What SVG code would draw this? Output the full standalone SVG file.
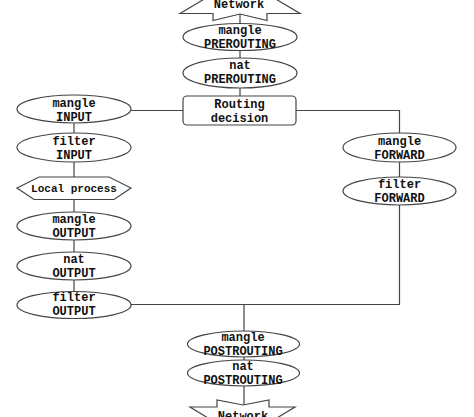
<svg xmlns="http://www.w3.org/2000/svg" width="474" height="417" viewBox="0 0 474 417">
<style>
.s{fill:#fff;stroke:#444;stroke-width:1.2}
.c{fill:none;stroke:#444;stroke-width:1.2}
text{font-family:"Liberation Mono","Courier New",monospace;font-weight:bold;font-size:12px;fill:#111;text-anchor:middle}
</style>
<rect width="474" height="417" fill="#fff"/>
<g id="connectors">
<line class="c" x1="240" y1="14" x2="240" y2="24"/>
<line class="c" x1="240" y1="50" x2="240" y2="58"/>
<line class="c" x1="240" y1="88" x2="240" y2="96"/>
<line class="c" x1="183" y1="110.5" x2="131" y2="110.5"/>
<polyline class="c" points="296,110.5 399.5,110.5 399.5,133"/>
<line class="c" x1="399.5" y1="162" x2="399.5" y2="177"/>
<line class="c" x1="74" y1="123" x2="74" y2="133"/>
<line class="c" x1="74" y1="162" x2="74" y2="177"/>
<line class="c" x1="74" y1="199" x2="74" y2="212"/>
<line class="c" x1="74" y1="240" x2="74" y2="252"/>
<line class="c" x1="74" y1="280" x2="74" y2="292"/>
<polyline class="c" points="131,304.5 399.5,304.5 399.5,205"/>
<line class="c" x1="244" y1="304.5" x2="244" y2="331"/>
<line class="c" x1="244" y1="357" x2="244" y2="360"/>
<line class="c" x1="244" y1="386" x2="244" y2="405"/>
</g>
<g id="net_in">
<polygon class="s" points="180,13.5 206,-2 274,-2 300,13.5 267,13.5 267,20.5 240,14 213,20.5 213,13.5"/>
<text x="239" y="8">Network</text>
</g>
<g id="mangle_prerouting">
<ellipse class="s" cx="240" cy="37" rx="57" ry="13.5"/>
<text x="240" y="34">mangle</text>
<text x="240" y="48">PREROUTING</text>
</g>
<g id="nat_prerouting">
<ellipse class="s" cx="240" cy="73" rx="57" ry="15"/>
<text x="240" y="69">nat</text>
<text x="240" y="83">PREROUTING</text>
</g>
<g id="routing_decision">
<rect class="s" x="183" y="96" width="113" height="29" rx="4"/>
<text x="239.5" y="108">Routing</text>
<text x="239.5" y="122">decision</text>
</g>
<g id="mangle_input">
<ellipse class="s" cx="74" cy="109" rx="57" ry="14"/>
<text x="74" y="107">mangle</text>
<text x="74" y="121">INPUT</text>
</g>
<g id="filter_input">
<ellipse class="s" cx="74" cy="147.5" rx="57" ry="14.5"/>
<text x="74" y="145">filter</text>
<text x="74" y="159">INPUT</text>
</g>
<g id="local_process">
<polygon class="s" points="17,188 39,177 109,177 131,188 114,199.5 34,199.5"/>
<text x="74" y="192" style="font-size:11px">Local process</text>
</g>
<g id="mangle_output">
<ellipse class="s" cx="74" cy="226" rx="57" ry="14"/>
<text x="74" y="223">mangle</text>
<text x="74" y="237">OUTPUT</text>
</g>
<g id="nat_output">
<ellipse class="s" cx="74" cy="266" rx="57" ry="14"/>
<text x="74" y="263">nat</text>
<text x="74" y="277">OUTPUT</text>
</g>
<g id="filter_output">
<ellipse class="s" cx="74" cy="305" rx="57" ry="13.5"/>
<text x="74" y="301">filter</text>
<text x="74" y="315">OUTPUT</text>
</g>
<g id="mangle_forward">
<ellipse class="s" cx="399.5" cy="147.5" rx="56.5" ry="14.5"/>
<text x="399.5" y="144.5">mangle</text>
<text x="399.5" y="158.5">FORWARD</text>
</g>
<g id="filter_forward">
<ellipse class="s" cx="399.5" cy="191" rx="56.5" ry="14"/>
<text x="399.5" y="188">filter</text>
<text x="399.5" y="202">FORWARD</text>
</g>
<g id="mangle_postrouting">
<ellipse class="s" cx="243.5" cy="344" rx="56" ry="13"/>
<text x="243" y="341">mangle</text>
<text x="243" y="355">POSTROUTING</text>
</g>
<g id="nat_postrouting">
<ellipse class="s" cx="243.5" cy="373" rx="56" ry="13"/>
<text x="243" y="370">nat</text>
<text x="243" y="384">POSTROUTING</text>
</g>
<g id="net_out">
<polygon class="s" points="190,407 217,407 217,400 243,405 269,400 269,407 295,407 272,421 213,421"/>
<text x="243" y="420">Network</text>
</g>
</svg>
